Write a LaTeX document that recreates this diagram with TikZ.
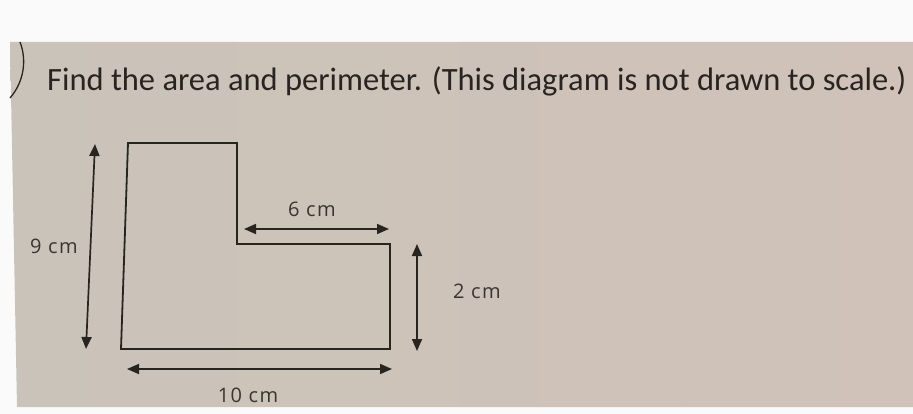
\documentclass[tikz,border=0pt]{standalone}
\usepackage{fontspec}
\setmainfont{Carlito}
\newfontfamily\dimfont[LetterSpace=7]{Open Sans}
\usetikzlibrary{arrows.meta}
\definecolor{paperL}{RGB}{202,195,186}
\definecolor{paperR}{RGB}{208,194,184}
\definecolor{ink}{RGB}{40,36,32}
\definecolor{dimink}{RGB}{58,53,48}
\tikzset{
  outline/.style={draw=ink, line width=1.8pt, line join=miter},
  dimarrow/.style={draw=ink, line width=1.7pt, {Triangle[length=12pt,width=10pt]}-{Triangle[length=12pt,width=10pt]}},
  dimlabel/.style={text=dimink, font=\dimfont\fontsize{20}{21}\selectfont, inner sep=0pt}
}
\begin{document}
\begin{tikzpicture}[x=1pt,y=-1pt]
\useasboundingbox (0,0) rectangle (913,414);
\fill[white!98!black] (0,0) rectangle (913,414);
\shade[left color=paperL, right color=paperR] (10,42) -- (913,42) -- (913,407) -- (17,407) -- cycle;
\draw[ink, line width=1.3pt] (20,42) .. controls (27,60) and (24,82) .. (10,98);
\node[anchor=base west, text=ink, font=\fontsize{32.5}{34}\selectfont, inner sep=0pt] (title) at (47,91) {Find the area and perimeter. (This diagram is not drawn to scale.)};
% L shape corners
\coordinate (tl) at (128,143);
\coordinate (tr) at (237,143);
\coordinate (ic) at (237,244);
\coordinate (rt) at (390,244);
\coordinate (br) at (390,349);
\coordinate (bl) at (121,349);
\draw[outline] (tl) -- (tr) -- (ic) -- (rt) -- (br) -- (bl) -- cycle;
% dimension arrows
\coordinate (n1) at (95,144);
\coordinate (n2) at (86,349);
\draw[dimarrow] (n1) -- (n2);
\coordinate (s1) at (244,229);
\coordinate (s2) at (389,229);
\draw[dimarrow] (s1) -- (s2);
\coordinate (t1) at (417,244);
\coordinate (t2) at (417,351);
\draw[dimarrow] (t1) -- (t2);
\coordinate (d1) at (127,369);
\coordinate (d2) at (392,369);
\draw[dimarrow] (d1) -- (d2);
% labels
\node[dimlabel] (l9) at (54,246) {9 cm};
\node[dimlabel] (l6) at (312,209) {6 cm};
\node[dimlabel] (l2) at (477,291) {2 cm};
\node[dimlabel] (l10) at (248,395) {10 cm};
\end{tikzpicture}
\end{document}
